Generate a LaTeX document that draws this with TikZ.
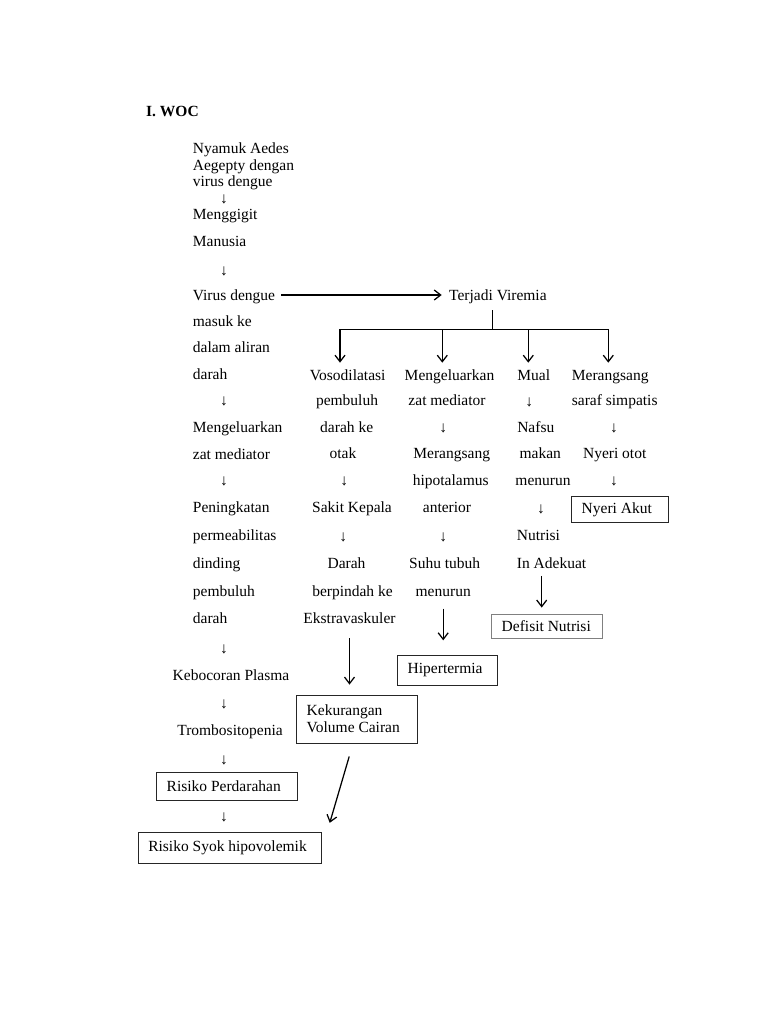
\documentclass[tikz,border=0pt]{standalone}
\usepackage{fontspec}
\setmainfont{Liberation Serif}
\usetikzlibrary{arrows.meta,calc}
\newcommand\wocfont{\fontsize{15.5}{17}\selectfont}
\newcommand\wocsp{\spaceskip=0pt\xspaceskip=0pt\relax}
\begin{document}
\begin{tikzpicture}[x=1pt,y=-1pt,
  txt/.style={inner sep=0pt, font=\wocfont, anchor=mid, yshift=-3pt},
  ltxt/.style={txt, anchor=mid west},
  dnar/.style={txt},
  box/.style={draw=black!85, line width=0.9pt, inner xsep=10pt, inner ysep=0pt, align=left, font=\wocfont, anchor=center},
  arr/.style={line width=1.25pt, -{Straight Barb[length=6.5pt,width=10pt]}},
  ln/.style={line width=1.25pt}]
\fill[white] (0,0) rectangle (768,1024);
\useasboundingbox (0,0) rectangle (768,1024);

% title
\node[ltxt, font=\wocfont\bfseries] (woc) at (146,111.7) {I. WOC};

% left column
\node[ltxt] (n1) at (192.7,148.3) {Nyamuk Aedes};
\node[ltxt] (n2) at (192.7,165) {Aegepty dengan};
\node[ltxt] (n3) at (192.7,181.3) {virus dengue};
\node[dnar] (a1) at (224,198.3) {↓};
\node[ltxt] (n4) at (192.7,214.5) {Menggigit};
\node[ltxt] (n5) at (192.7,241.5) {Manusia};
\node[dnar] (a2) at (224,270) {↓};
\node[ltxt] (virus) at (192.7,295) {Virus dengue};
\node[ltxt] (n7) at (192.7,321.5) {masuk ke};
\node[ltxt] (n8) at (192.7,347.5) {dalam aliran};
\node[ltxt] (n9) at (192.7,374.5) {darah};
\node[dnar] (a3) at (224,400.5) {↓};
\node[ltxt] (n10) at (192.7,427.5) {Mengeluarkan};
\node[ltxt] (n11) at (192.7,454) {zat mediator};
\node[dnar] (a4) at (224,480.5) {↓};
\node[ltxt] (n12) at (192.7,507.5) {Peningkatan};
\node[ltxt] (n13) at (192.7,535) {permeabilitas};
\node[ltxt] (n14) at (192.7,563) {dinding};
\node[ltxt] (n15) at (192.7,591) {pembuluh};
\node[ltxt] (n16) at (192.7,618.5) {darah};
\node[dnar] (a5) at (224,648.5) {↓};
\node[txt] (keb) at (231,675) {Kebocoran Plasma};
\node[dnar] (a6) at (224,703.5) {↓};
\node[txt] (trom) at (230,730.5) {Trombositopenia};
\node[dnar] (a7) at (224,759.5) {↓};
\node[box, text width=120.6pt, minimum height=27.7pt] (rp) at (227,786.2) {\wocsp Risiko Perdarahan};
\node[dnar] (a8) at (224,816.5) {↓};
\node[box, text width=163.4pt, minimum height=31pt] (rs) at (230,847.8) {\wocsp Risiko Syok hipovolemik};

% viremia
\node[ltxt] (viremia) at (449,295) {Terjadi Viremia};
\draw[arr, shorten <=6pt, shorten >=7.3pt] ([yshift=3pt]virus.mid east) -- ([yshift=3pt]viremia.mid west);

% tree
\coordinate (br) at (492.7,329.3);
\coordinate (t1) at (340,362.7);
\coordinate (t2) at (442.3,362.7);
\coordinate (t3) at (528.3,362.7);
\coordinate (t4) at (608.3,362.7);
\draw[ln] (viremia.south -| br) ++(0,6.5) -- (br);
\draw[arr] (br) -| (t1);
\draw[arr] (br) -| (t2);
\draw[arr] (br) -| (t3);
\draw[arr] (br) -| (t4);

% column 1
\node[txt] (c1a) at (347.7,375) {Vosodilatasi};
\node[txt] (c1b) at (347,400.5) {pembuluh};
\node[txt] (c1c) at (346.7,427) {darah ke};
\node[txt] (c1d) at (343,453.5) {otak};
\node[dnar] (c1e) at (344.3,480.5) {↓};
\node[txt] (c1f) at (352,507.5) {Sakit Kepala};
\node[dnar] (c1g) at (343.3,536.5) {↓};
\node[txt] (c1h) at (346.5,563.3) {Darah};
\node[txt] (c1i) at (352.5,591) {berpindah ke};
\node[txt] (ekstra) at (349.5,618.5) {Ekstravaskuler};
\node[box, text width=101pt, minimum height=48.3pt] (kek) at (357.2,719.2)
  {\fontsize{15.5}{17}\selectfont\wocsp Kekurangan\\\wocsp Volume Cairan};
\draw[arr, shorten >=10pt] (ekstra.south) ++(0,14) -- (ekstra.south |- kek.north);

% column 2
\node[txt] (c2a) at (449.5,375) {Mengeluarkan};
\node[txt] (c2b) at (447,400.5) {zat mediator};
\node[dnar] (c2c) at (443.3,427) {↓};
\node[txt] (c2d) at (451.7,453.5) {Merangsang};
\node[txt] (c2e) at (450.7,480.5) {hipotalamus};
\node[txt] (c2f) at (447,507.5) {anterior};
\node[dnar] (c2g) at (443.3,536.5) {↓};
\node[txt] (c2h) at (444.7,563.3) {Suhu tubuh};
\node[txt] (men2) at (443.2,591) {menurun};
\node[box, text width=79.3pt, minimum height=30.3pt] (hiper) at (447.35,670.2) {\wocsp Hipertermia};
\draw[arr, shorten >=14.3pt] (men2.south) ++(0,12) -- (men2.south |- hiper.north);

% column 3
\node[txt] (c3a) at (533.8,375) {Mual};
\node[dnar] (c3b) at (529.3,401) {↓};
\node[txt] (c3c) at (535.8,427) {Nafsu};
\node[txt] (c3d) at (540.3,453.5) {makan};
\node[txt] (c3e) at (543,480.5) {menurun};
\node[dnar] (c3f) at (541,508) {↓};
\node[ltxt] (nutr) at (516.7,535) {Nutrisi};
\node[ltxt] (inadek) at (516.7,563.3) {In Adekuat};
\node[box, draw=black!50, text width=90.6pt, minimum height=24pt] (dn) at (547,626.3) {\wocsp Defisit Nutrisi};
\coordinate (dnx) at ([xshift=-5.3pt]dn.north);
\draw[arr, shorten >=6.3pt] (dnx |- inadek.south) ++(0,7) -- (dnx);

% column 4
\node[ltxt] (c4a) at (571.7,375) {Merangsang};
\node[ltxt] (c4b) at (571.7,400.5) {saraf simpatis};
\node[dnar] (c4c) at (614,427) {↓};
\node[txt] (c4d) at (614.7,453.5) {Nyeri otot};
\node[dnar] (c4e) at (614,480.5) {↓};
\node[box, text width=76.6pt, minimum height=26.7pt] (na) at (620,509.3) {\wocsp Nyeri Akut};

% diagonal
\draw[arr] ([xshift=-8pt]kek.south) ++(0,12.7) -- ([xshift=7.6pt,yshift=9pt]rs.north east);
\end{tikzpicture}
\end{document}
